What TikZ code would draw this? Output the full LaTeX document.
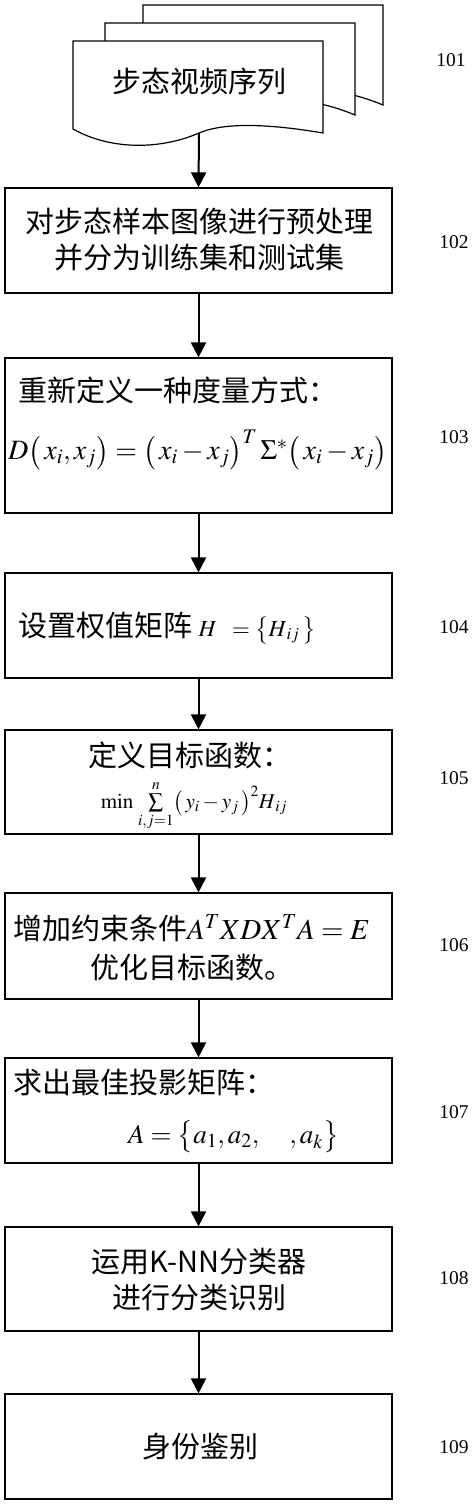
\documentclass[tikz,border=0pt]{standalone}
\usepackage{amsmath}
\usepackage{mathptmx}
\usepackage[no-math]{fontspec}
\setmainfont{Liberation Serif}
\newfontfamily\cjk{Noto Sans CJK SC}
\usetikzlibrary{arrows.meta}

\begin{document}
\begin{tikzpicture}[x=1pt, y=-1pt,
	box/.style={draw, line width=1.2pt, minimum width=387pt, inner sep=0pt},
	page/.style={draw, line width=1.2pt, fill=white},
	arr/.style={line width=2pt, -{Triangle[length=15pt, width=15pt]}},
	txt/.style={font=\cjk\fontsize{29}{36}\selectfont, inner sep=0pt, align=center},
	num/.style={font=\fontsize{19.5}{19.5}\selectfont, inner sep=0pt}]
	\useasboundingbox (0,0) rectangle (474,1505);
	% stacked pages of the video sequence
	\draw[page] (143,101) -- (143,5) -- (383,5) -- (383,105) .. controls (328,82) and (288,90) .. (258,102) .. controls (220,116) and (175,118) .. (143,101) -- cycle;
	\draw[page] (105,111) -- (105,23) -- (355,23) -- (355,115) .. controls (300,92) and (260,100) .. (230,112) .. controls (190,128) and (140,130) .. (105,111) -- cycle;
	\draw[page] (73,129) -- (73,41) -- (323,41) -- (323,133) .. controls (270,124) and (225,122) .. (199,133) .. controls (160,150) and (110,150) .. (73,129) -- cycle;
	\coordinate (seqend) at (199,133);
	\node[txt] (seq) at (199,81) {步态视频序列};
	% boxes
	\node[box, minimum height=105pt] (b102) at (198.5,240.5) {};
	\node[box, minimum height=155pt] (b103) at (198.5,435.5) {};
	\node[box, minimum height=105pt] (b104) at (198.5,625.5) {};
	\node[box, minimum height=104pt] (b105) at (198.5,782) {};
	\node[box, minimum height=106pt] (b106) at (198.5,946) {};
	\node[box, minimum height=105pt] (b107) at (198.5,1110.5) {};
	\node[box, minimum height=104pt] (b108) at (198.5,1279) {};
	\node[box, minimum height=105pt] (b109) at (198.5,1446.5) {};
	% texts
	\node[txt] (t102) at (199,240) {对步态样本图像进行预处理\\并分为训练集和测试集};
	\node[txt, anchor=west] (t103) at (18,390) {重新定义一种度量方式：};
	\node[inner sep=0pt, anchor=west, font=\fontsize{28}{28}\selectfont] (f103) at (8,450) {$D\bigl(\,x_i,x_j\bigr)=\bigl(\,x_i-x_j\bigr)^T\,\Sigma^*\bigl(\,x_i-x_j\bigr)$};
	\node[txt, anchor=west] (t104) at (18,628) {设置权值矩阵 {\fontsize{23}{23}\selectfont$H\;\;=\bigl\{H_{\,ij}\,\bigr\}$}};
	\node[txt, text height=22pt, text depth=3pt] (t105) at (190,757) {定义目标函数：};
	\node[inner sep=0pt, font=\fontsize{21}{21}\selectfont] (f105) at (194,806) {$\min\,\sum\limits_{i,j=1}^{n}\bigl(\,y_i-y_j\,\bigr)^2H_{\,ij}$};
	\node[txt, anchor=west] (t106) at (13,928) {增加约束条件{\fontsize{29}{29}\selectfont$A^T XDX^T A=E$}};
	\node[txt] (u106) at (192,967) {优化目标函数。};
	\node[txt, anchor=west] (t107) at (13,1082) {求出最佳投影矩阵：};
	\node[inner sep=0pt, anchor=west, font=\fontsize{27}{27}\selectfont] (f107) at (128,1137) {$A=\bigl\{a_1,a_2,\quad,a_k\bigr\}$};
	\node[txt] (t108) at (199,1280) {运用K-NN分类器\\进行分类识别};
	\node[txt] (t109) at (200,1447) {身份鉴别};
	% step numbers
	\node[num] (n101) at (451,60) {101};
	\node[num] (n102) at (454,242) {102};
	\node[num] (n103) at (454,437) {103};
	\node[num] (n104) at (454,627) {104};
	\node[num] (n105) at (454,778) {105};
	\node[num] (n106) at (454,945) {106};
	\node[num] (n107) at (454,1112) {107};
	\node[num] (n108) at (454,1278) {108};
	\node[num] (n109) at (454,1447) {109};
	% arrows
	\draw[arr] (seqend) -- (b102.north);
	\draw[arr] (b102) -- (b103);
	\draw[arr] (b103) -- (b104);
	\draw[arr] (b104) -- (b105);
	\draw[arr] (b105) -- (b106);
	\draw[arr] (b106) -- (b107);
	\draw[arr] (b107) -- (b108);
	\draw[arr] (b108) -- (b109);
\end{tikzpicture}
\end{document}
